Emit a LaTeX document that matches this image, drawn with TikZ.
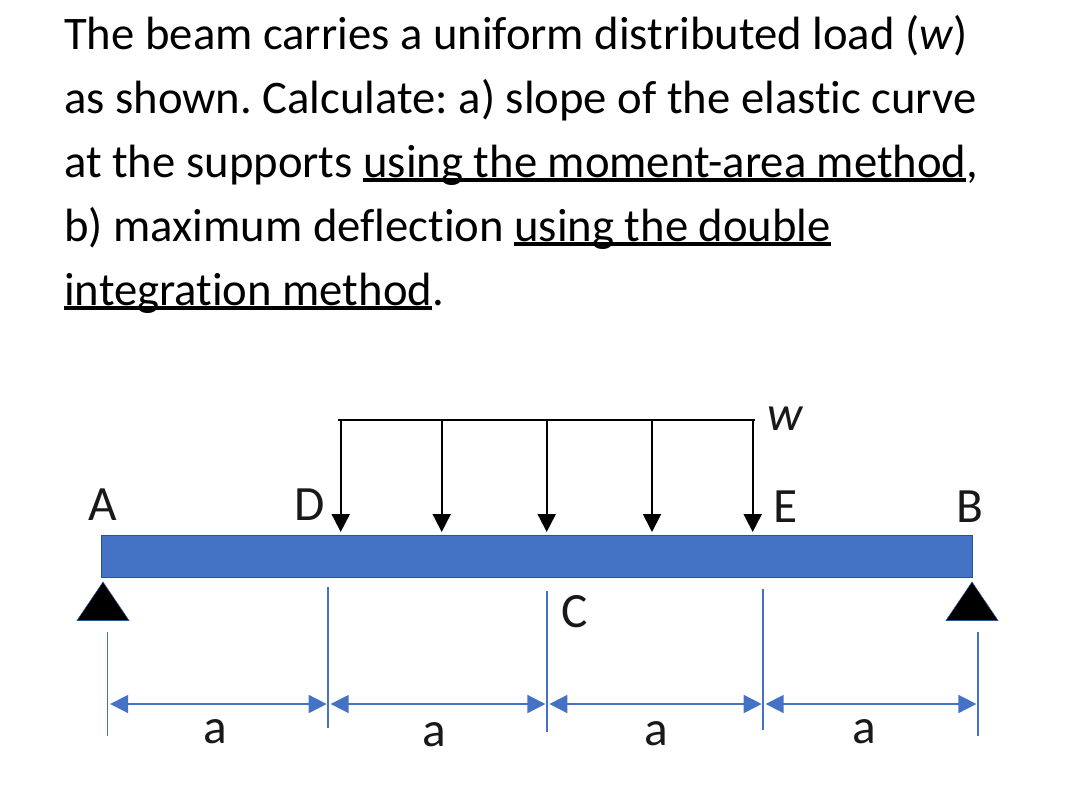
\documentclass[tikz,border=0pt]{standalone}
\usepackage{fontspec}
\setmainfont[Ligatures=NoCommon]{Carlito}
\usetikzlibrary {arrows.meta, positioning}
\definecolor{beamblue}{HTML}{4472C4}
\definecolor{beamedge}{HTML}{2F528F}
\newcommand{\ulrule}[1]{\setbox0=\hbox{#1}\rlap{\rule[-3.6pt]{\wd0}{2.6pt}}\box0}
\frenchspacing

\begin{document}
\begin{tikzpicture}[
        x=0.75pt,y=-0.75pt,
        textline/.style={anchor=base west,inner sep=0pt,font=\fontsize{35pt}{40pt}\selectfont},
        letter/.style={inner sep=0pt,font=\fontsize{37pt}{40pt}\selectfont,text=black!90},
        load/.style={-{Triangle[width=13.5pt,length=13.5pt]},line width=1.4pt},
        dimline/.style={color=beamblue,line width=1.3pt},
        dimarrow/.style={{Triangle[width=13.5pt,length=13.5pt]}-{Triangle[width=13.5pt,length=13.5pt]},color=beamblue,line width=1.3pt,shorten >=1pt,shorten <=2pt},
        support/.style={fill=black,draw=beamedge,line width=0.4pt}
        ]
        \useasboundingbox (0,0) rectangle (1080,800);

        % question text
        \node[textline] (line1) at (64,49)  {The beam carries a uniform distributed load (\textit{w})};
        \node[textline] (line2) at (64,113) {as shown. Calculate: a) slope of the elastic curve};
        \node[textline] (line3) at (64,177) {at the supports \ulrule{using the moment-area method},};
        \node[textline] (line4) at (64,241) {b) maximum deflection \ulrule{using the double}};
        \node[textline] (line5) at (64,305) {\ulrule{integration method}.};

        % beam and supports
        \node[draw=beamedge,fill=beamblue,line width=0.4pt,inner sep=0pt,minimum width=653.25pt,minimum height=31.5pt] (beam) at (536.5,556) {};
        \draw[support] (103,582) -- (129,620.5) -- (77,620.5) -- cycle;
        \draw[support] (972,582) -- (998,620.5) -- (946,620.5) -- cycle;

        % load
        \coordinate (loadl) at (338,420);
        \coordinate (loadr) at (755,420);
        \draw[line width=1.4pt] (loadl) -- (loadr);
        \draw[load] (340.7,420) -- (340.7,532);
        \draw[load] (441.7,420) -- (441.7,532);
        \draw[load] (546.7,420) -- (546.7,532);
        \draw[load] (652,420) -- (652,532);
        \draw[load] (752.7,420) -- (752.7,532);

        % dimension lines
        \coordinate (dimA) at (107.5,704);
        \coordinate (dimD) at (328,704);
        \coordinate (dimC) at (546.7,704);
        \coordinate (dimE) at (763,704);
        \coordinate (dimB) at (977.7,704);
        \draw[dimline] (107.5,632) -- (107.5,736);
        \draw[dimline] (328,587) -- (328,728);
        \draw[dimline] (546.7,591) -- (546.7,732);
        \draw[dimline] (763,589) -- (763,730);
        \draw[dimline] (977.7,632) -- (977.7,736);
        \draw[dimarrow] (dimA) -- (dimD);
        \draw[dimarrow] (dimD) -- (dimC);
        \draw[dimarrow] (dimC) -- (dimE);
        \draw[dimarrow] (dimE) -- (dimB);

        % labels
        \node[letter] (labA) at (103,505) {A};
        \node[letter] (labD) at (310,505) {D};
        \node[letter] (labE) at (786,507) {E};
        \node[letter] (labB) at (970,507) {B};
        \node[letter] (labC) at (575,612) {C};
        \node[letter,font=\fontsize{37pt}{40pt}\selectfont\itshape] (labw) at (785,419) {w};
        \node[letter] (laba1) at (215,732) {a};
        \node[letter] (laba2) at (434,735) {a};
        \node[letter] (laba3) at (656,734) {a};
        \node[letter] (laba4) at (864,732) {a};
\end{tikzpicture}
\end{document}
